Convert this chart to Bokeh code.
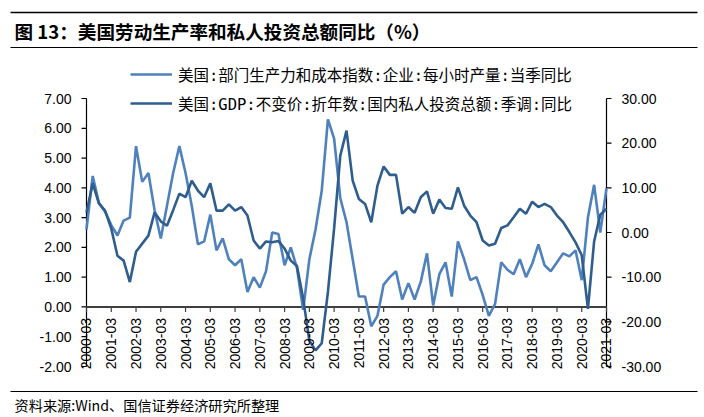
import math
from bokeh.plotting import figure
from bokeh.models import (Range1d, Legend, LegendItem, Label, LabelSet, ColumnDataSource)
from bokeh.core.properties import value
from bokeh.embed import file_html
from bokeh.resources import INLINE

# ---------------- data ----------------
quarters = [f"{y}-{m:02d}" for y in range(2000, 2022) for m in (3, 6, 9, 12)][:85]
tick_labels = [f"{y}-03" for y in range(2000, 2022)]
left_ticks = [-2, -1, 0, 1, 2, 3, 4, 5, 6, 7]
right_ticks = [-30, -20, -10, 0, 10, 20, 30]

productivity = [2.6, 4.4, 3.5, 3.2, 2.75, 2.4, 2.9, 3.0, 5.4, 4.2, 4.5, 3.25, 2.3, 3.4, 4.5,
                5.4, 4.5, 3.4, 2.1, 2.2, 3.1, 1.9, 2.3, 1.6, 1.4, 1.6, 0.5, 1.0, 0.65, 1.2,
                2.5, 2.45, 1.4, 2.0, 1.3, -0.1, 1.6, 2.6, 3.9, 6.3, 5.65, 3.65, 2.85, 1.6, 0.35,
                0.35, -0.65, -0.3, 0.75, 1.0, 1.2, 0.25, 0.8, 0.25, 0.85, 1.8, 0.05, 1.1, 1.5,
                0.35, 2.2, 1.6, 0.9, 1.0, 0.4, -0.3, 0.1, 1.5, 1.25, 1.1, 1.6, 1.0, 1.45,
                2.1, 1.4, 1.2, 1.5, 1.8, 1.7, 1.9, 0.9, 3.0, 4.1, 2.5, 4.0]
investment = [4.5, 11.0, 6.5, 4.9, 0.9, -5.2, -6.3, -11.1, -4.3, -2.5, -0.7, 4.5, 2.5, 1.5, 5.0,
              8.7, 7.9, 11.6, 9.4, 7.9, 11.0, 4.9, 4.9, 6.3, 4.9, 5.7, 3.8, -1.8, -3.6, -2.0,
              -2.2, -1.9, -3.6, -6.3, -7.5, -14.8, -24.2, -26.4, -24.8, -13.3, 0.9, 17.2, 22.8,
              11.6, 7.5, 6.4, 2.3, 10.5, 14.8, 12.9, 12.9, 4.2, 5.7, 4.4, 7.9, 9.2, 4.2, 7.4,
              5.5, 5.3, 10.1, 6.0, 3.8, 2.3, -1.8, -2.9, -2.5, 1.0, 1.6, 3.4, 5.3, 4.2, 6.9,
              5.7, 6.4, 5.7, 3.8, 2.3, 0.1, -2.2, -5.1, -17.1, -2.0, 4.0, 5.3]

name1 = "美国:部门生产力和成本指数:企业:每小时产量:当季同比"
name2 = "美国:GDP:不变价:折年数:国内私人投资总额:季调:同比"
title_text = "图 13：美国劳动生产率和私人投资总额同比（%）"
source_text = "资料来源:Wind、国信证券经济研究所整理"

# ---------------- layout constants (page px) ----------------
W, H = 704, 417
FL, FR, FT, FB = 86, 606, 98, 366
N = len(quarters) - 1
LMIN, LMAX = left_ticks[0], left_ticks[-1]
RMIN, RMAX = right_ticks[0], right_ticks[-1]

def xd(px):
    return (px - FL) / (FR - FL) * N

def yd(py):
    return LMAX - (py - FT) / (FB - FT) * (LMAX - LMIN)

def rd(py):
    return RMAX - (py - FT) / (FB - FT) * (RMAX - RMIN)

XPX = (FR - FL) / N
YPX = (FB - FT) / (LMAX - LMIN)

light = "#4F81BD"
dark = "#2F5D8E"
cjk = "Noto Sans CJK SC"
axc = "black"

p = figure(width=W, height=H, x_range=Range1d(xd(0), xd(W)), y_range=Range1d(yd(H), yd(0)),
           x_axis_location=None, y_axis_location=None, toolbar_location=None,
           output_backend="svg", min_border=0)
p.min_border_left = p.min_border_right = p.min_border_top = p.min_border_bottom = 0
p.extra_y_ranges = {"right": Range1d(rd(H), rd(0))}
p.outline_line_color = None
p.grid.visible = False
p.background_fill_color = "white"
p.border_fill_color = "white"

# ---- left value axis ----
p.segment(x0=[0], y0=[LMIN], x1=[0], y1=[LMAX], line_color=axc, line_width=1.2)
p.segment(x0=[0] * len(left_ticks), y0=left_ticks, x1=[-5 / XPX] * len(left_ticks),
          y1=left_ticks, line_color=axc, line_width=1.2)
lt_src = ColumnDataSource(dict(x=[0] * len(left_ticks), y=left_ticks,
                               text=[f"{v:.2f}" for v in left_ticks]))
p.add_layout(LabelSet(x="x", y="y", text="text", source=lt_src, x_offset=-15,
                      text_align="right", text_baseline="middle",
                      text_font=value("Liberation Sans"), text_font_size=value("14px"),
                      text_color="black"))

# ---- right value axis ----
p.segment(x0=[N], y0=[RMIN], x1=[N], y1=[RMAX], line_color=axc, line_width=1.2,
          y_range_name="right")
p.segment(x0=[N] * len(right_ticks), y0=right_ticks, x1=[N + 5 / XPX] * len(right_ticks),
          y1=right_ticks, line_color=axc, line_width=1.2, y_range_name="right")
rt_src = ColumnDataSource(dict(x=[N] * len(right_ticks), y=right_ticks,
                               text=[f"{v:.2f}" for v in right_ticks]))
p.add_layout(LabelSet(x="x", y="y", text="text", source=rt_src, x_offset=15,
                      y_range_name="right", text_align="left", text_baseline="middle",
                      text_font=value("Liberation Sans"), text_font_size=value("14px"),
                      text_color="black"))

# ---- category axis crossing at zero ----
p.segment(x0=[0], y0=[0], x1=[N], y1=[0], line_color="#404040", line_width=2)
tick_pos = [quarters.index(t) for t in tick_labels]
p.segment(x0=tick_pos, y0=[0] * len(tick_pos), x1=tick_pos,
          y1=[-5 / YPX] * len(tick_pos), line_color="#404040", line_width=1.2)
lab_src = ColumnDataSource(dict(x=tick_pos, y=[0] * len(tick_pos), text=tick_labels))
p.add_layout(LabelSet(x="x", y="y", text="text", source=lab_src, angle=math.pi / 2,
                      text_align="right", text_baseline="middle", y_offset=-11,
                      text_font=value("Liberation Sans"), text_font_size=value("14px"),
                      text_color="black"))

# ---- series ----
src = ColumnDataSource(dict(x=list(range(len(quarters))), prod=productivity,
                            inv=investment, q=quarters))
r1 = p.line("x", "prod", source=src, line_color=light, line_width=2.6)
r2 = p.line("x", "inv", source=src, y_range_name="right", line_color=dark, line_width=2.6)

legend = Legend(items=[LegendItem(label=name1, renderers=[r1]),
                       LegendItem(label=name2, renderers=[r2])],
                location=(130, H - 114), orientation="vertical",
                glyph_width=42, glyph_height=20, label_height=20, label_standoff=6,
                spacing=7, padding=0, margin=0, border_line_color=None,
                background_fill_alpha=0, label_text_font="DejaVu Sans Mono, Noto Sans CJK SC",
                label_text_font_size="15.5px", label_text_color="black")
p.add_layout(legend)

# ---- title, rules and source ----
p.add_layout(Label(x=xd(14), y=yd(30), text=title_text, text_baseline="middle",
                   text_font=cjk, text_font_size="18.6px", text_font_style="bold",
                   text_color="black"))
p.add_layout(Label(x=xd(14), y=yd(404), text=source_text, text_baseline="middle",
                   text_font=cjk, text_font_size="14.2px", text_color="black"))
rule_y = [12, 47, 391]
rule_w = [1.6, 1.2, 1.2]
for py, lw in zip(rule_y, rule_w):
    p.segment(x0=[xd(10)], y0=[yd(py)], x1=[xd(697)], y1=[yd(py)],
              line_color="black", line_width=lw)

open("out.html", "w").write(file_html(p, INLINE))
